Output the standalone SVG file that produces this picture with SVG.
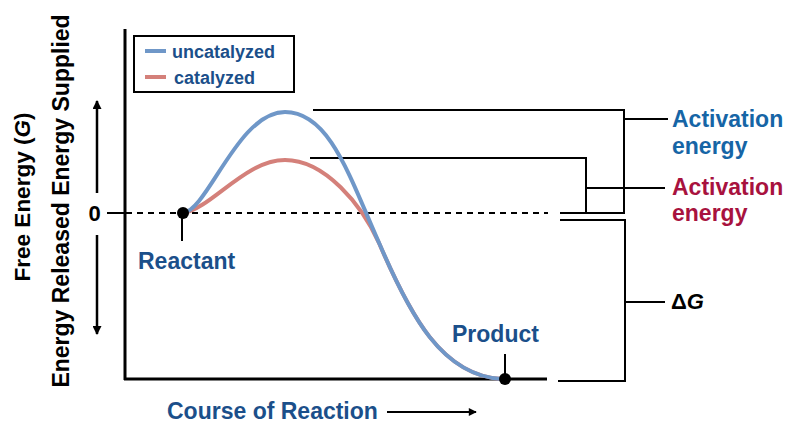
<svg xmlns="http://www.w3.org/2000/svg" width="800" height="439" viewBox="0 0 800 439">
<style>
text{font-family:"Liberation Sans",Arial,sans-serif;font-weight:bold}
.lbl{font-size:23px;fill:#1b4f8a}
.blk{stroke:#000;fill:none;stroke-width:2}
.axis{stroke:#000;fill:none;stroke-width:3}
</style>
<defs>
<marker id="ah" viewBox="0 0 10 10" refX="9" refY="5" markerWidth="13" markerHeight="9" markerUnits="userSpaceOnUse" orient="auto">
<path d="M0,0 L10,5 L0,10 z" fill="#000"/>
</marker>
<marker id="ah2" viewBox="0 0 10 10" refX="9" refY="5" markerWidth="13" markerHeight="8" markerUnits="userSpaceOnUse" orient="auto">
<path d="M0,0 L10,5 L0,10 z" fill="#000"/>
</marker>
</defs>
<rect width="800" height="439" fill="#fff"/>
<g id="axes">
<line class="axis" x1="125" y1="29" x2="125" y2="380"/>
<line class="axis" x1="124" y1="379" x2="547" y2="379"/>
<line class="blk" x1="107" y1="213" x2="124" y2="213"/>
<line x1="126" y1="213" x2="548" y2="213" stroke="#000" stroke-width="2" stroke-dasharray="6,5"/>
<text x="94.5" y="221" text-anchor="middle" font-size="22" fill="#000">0</text>
</g>
<g id="ylabels">
<text transform="translate(30,197) rotate(-90)" text-anchor="middle" font-size="22.5" fill="#000">Free Energy (<tspan font-style="italic">G</tspan>)</text>
<text transform="translate(69,201) rotate(-90)" text-anchor="middle" font-size="23" fill="#000">Energy Released Energy Supplied</text>
<line x1="97" y1="193" x2="97" y2="101" stroke="#000" stroke-width="2.5" marker-end="url(#ah)"/>
<line x1="97" y1="235" x2="97" y2="334" stroke="#000" stroke-width="2.5" marker-end="url(#ah)"/>
</g>
<g id="legend">
<rect x="134" y="36" width="160" height="56" fill="#fff" stroke="#000" stroke-width="2"/>
<line x1="145" y1="51" x2="166" y2="51" stroke="#6f97c8" stroke-width="4"/>
<line x1="145" y1="77" x2="166" y2="77" stroke="#d4807a" stroke-width="4"/>
<text x="172" y="58" font-size="18" fill="#1b4f8a">uncatalyzed</text>
<text x="174" y="84" font-size="18" fill="#1b4f8a">catalyzed</text>
</g>
<g id="connectors">
<polyline class="blk" points="313,110 624,110 624,213 560,213"/>
<line class="blk" x1="624" y1="119" x2="668" y2="119"/>
<polyline class="blk" points="310,158 586,158 586,213"/>
<line class="blk" x1="586" y1="188" x2="665" y2="188"/>
<polyline class="blk" points="560,220 625,220 625,381 558,381"/>
<line class="blk" x1="625" y1="302" x2="665" y2="302"/>
<line class="blk" x1="182" y1="213" x2="182" y2="241"/>
<line class="blk" x1="505" y1="354" x2="505" y2="379"/>
<line x1="387" y1="412" x2="476" y2="412" stroke="#000" stroke-width="2" marker-end="url(#ah2)"/>
</g>
<g id="curves">
<path d="M183,213 C212,208 245,160 285,160 C325,160 362,205 379,243 C410,315 442,376 502,379" fill="none" stroke="#d4807a" stroke-width="4"/>
<path d="M183,213 C208,210 238,112 285,112 C330,112 350,178 380,245 C410,315 442,376 502,379" fill="none" stroke="#6f97c8" stroke-width="4"/>
</g>
<g id="reactant">
<circle cx="183" cy="213" r="6" fill="#000"/>
<text class="lbl" x="138" y="269">Reactant</text>
</g>
<g id="product">
<circle cx="505" cy="379" r="6" fill="#000"/>
<text class="lbl" x="452" y="342">Product</text>
</g>
<g id="xlabel">
<text class="lbl" x="167" y="419">Course of Reaction</text>
</g>
<g id="labels">
<text x="672" y="127" font-size="23" fill="#1665a6">Activation</text>
<text x="672" y="154" font-size="23" fill="#1665a6">energy</text>
<text x="672" y="195" font-size="23" fill="#a8123e">Activation</text>
<text x="672" y="221" font-size="23" fill="#a8123e">energy</text>
<text x="671" y="309" font-size="22" fill="#000">Δ<tspan font-style="italic">G</tspan></text>
</g>
</svg>
